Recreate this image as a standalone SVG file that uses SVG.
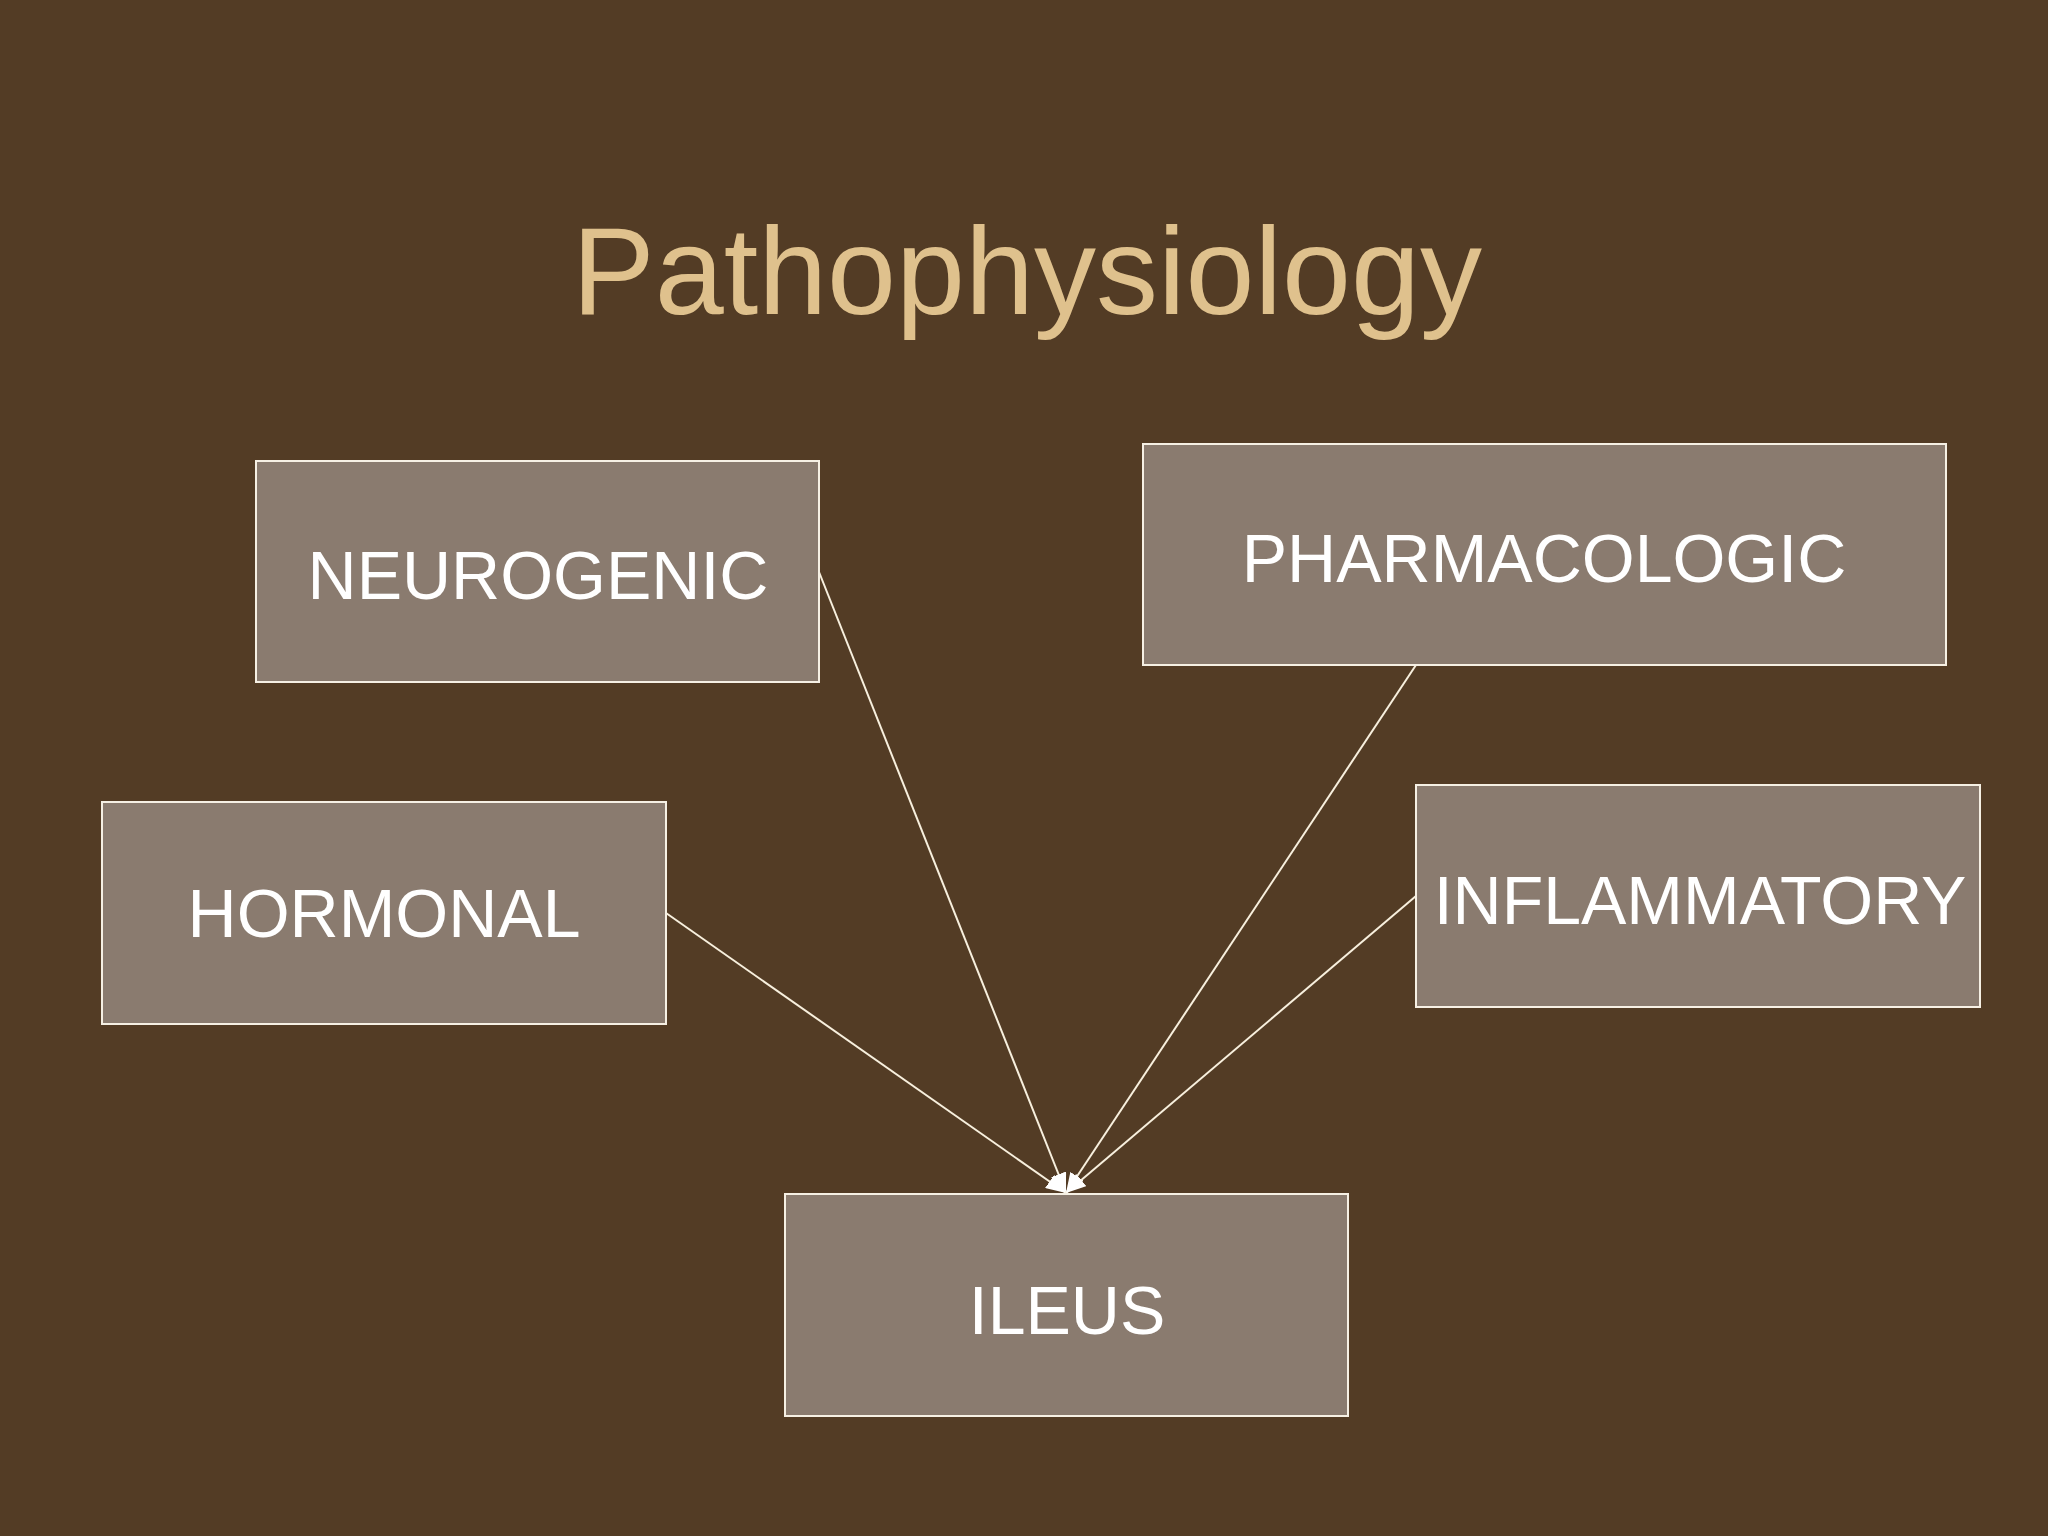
<svg xmlns="http://www.w3.org/2000/svg" width="2048" height="1536" viewBox="0 0 2048 1536">
  <defs>
    <style>
      .box { fill: #8A7B6F; stroke: #F6F0E4; stroke-width: 2; }
      .label { font-family: "Liberation Sans", Arial, sans-serif; font-size: 68px; fill: #FFFFFF; text-anchor: middle; }
      .title { font-family: "Liberation Sans", Arial, sans-serif; font-size: 124px; fill: #DFC18D; text-anchor: middle; }
      .conn { stroke: #F8F0DE; stroke-width: 2; fill: none; marker-end: url(#arrow); }
    </style>
    <marker id="arrow" markerUnits="userSpaceOnUse" markerWidth="22" markerHeight="16" refX="20" refY="8" orient="auto">
      <path d="M0,0 L20,8 L0,16 Z" fill="#FFFFFF"/>
    </marker>
  </defs>
  <rect x="0" y="0" width="2048" height="1536" fill="#533C25"/>
  <text class="title" x="1027" y="314">Pathophysiology</text>

  <g id="connectors">
    <line class="conn" x1="819" y1="572" x2="1066" y2="1193"/>
    <line class="conn" x1="666" y1="913" x2="1066" y2="1193"/>
    <line class="conn" x1="1416" y1="665" x2="1066" y2="1193"/>
    <line class="conn" x1="1416" y1="896" x2="1066" y2="1193"/>
  </g>

  <g id="neurogenic">
    <rect class="box" x="256" y="461" width="563" height="221"/>
    <text class="label" x="538" y="599">NEUROGENIC</text>
  </g>
  <g id="pharmacologic">
    <rect class="box" x="1143" y="444" width="803" height="221"/>
    <text class="label" x="1544" y="582">PHARMACOLOGIC</text>
  </g>
  <g id="hormonal">
    <rect class="box" x="102" y="802" width="564" height="222"/>
    <text class="label" x="384" y="937">HORMONAL</text>
  </g>
  <g id="inflammatory">
    <rect class="box" x="1416" y="785" width="564" height="222"/>
    <text class="label" x="1700" y="924">INFLAMMATORY</text>
  </g>
  <g id="ileus">
    <rect class="box" x="785" y="1194" width="563" height="222"/>
    <text class="label" x="1067" y="1334">ILEUS</text>
  </g>
</svg>
